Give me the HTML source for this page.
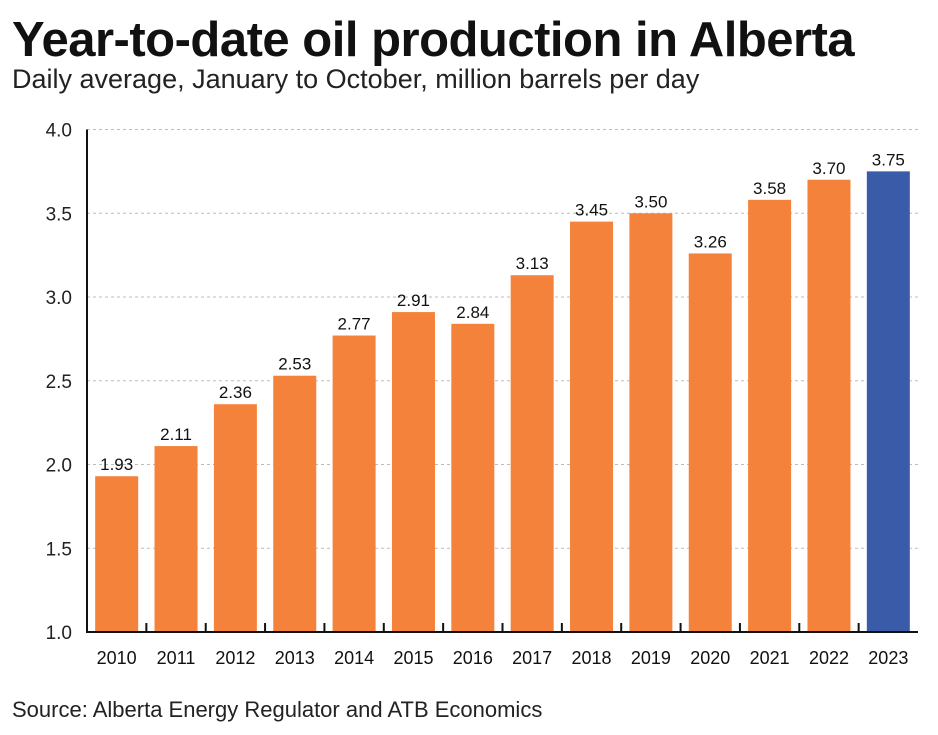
<!DOCTYPE html>
<html><head><meta charset="utf-8"><style>
body{margin:0;background:#fff;width:938px;height:735px;overflow:hidden;font-family:"Liberation Sans",sans-serif;}
#title{position:absolute;left:12px;top:12px;font-size:49px;font-weight:bold;color:#111;letter-spacing:-0.5px;margin:0}
#sub{position:absolute;left:12px;top:64px;font-size:27px;color:#222}
#src{position:absolute;left:12px;top:697px;font-size:22px;color:#222}
svg{position:absolute;left:0;top:0}
</style></head><body>
<div id="title">Year-to-date oil production in Alberta</div>
<div id="sub">Daily average, January to October, million barrels per day</div>
<div id="src">Source: Alberta Energy Regulator and ATB Economics</div>
<svg id="chart" width="938" height="735"></svg>
<script>
const categories=["2010","2011","2012","2013","2014","2015","2016","2017","2018","2019","2020","2021","2022","2023"];
const values=[1.93,2.11,2.36,2.53,2.77,2.91,2.84,3.13,3.45,3.50,3.26,3.58,3.70,3.75];
const valueLabels=["1.93","2.11","2.36","2.53","2.77","2.91","2.84","3.13","3.45","3.50","3.26","3.58","3.70","3.75"];
const yTicks=[1.0,1.5,2.0,2.5,3.0,3.5,4.0];
const yTickLabels=["1.0","1.5","2.0","2.5","3.0","3.5","4.0"];
const svg=document.getElementById('chart');
const NS='http://www.w3.org/2000/svg';
const L=87,R=918,T=129.5,B=632,ymin=1,ymax=4;
const band=(R-L)/categories.length,bw=43;
const y=v=>B-(v-ymin)/(ymax-ymin)*(B-T);
const x=i=>L+band*i+band/2;
function mk(tag,attrs){const e=document.createElementNS(NS,tag);for(const k in attrs)e.setAttribute(k,attrs[k]);svg.appendChild(e);return e;}
yTicks.forEach((t,i)=>{
  if(i>0){const g=mk('line',{x1:L,x2:R,y1:y(t),y2:y(t),stroke:'#bbb','stroke-dasharray':'3,3','stroke-width':1});
  
  }
  const tx=mk('text',{x:72,y:y(t)+7,'text-anchor':'end','font-size':19,fill:'#222','font-family':'Liberation Sans'});
  tx.textContent=yTickLabels[i];
  
  
});
values.forEach((v,i)=>{
  const r=mk('rect',{x:x(i)-bw/2,y:y(v),width:bw,height:B-y(v),fill:i===values.length-1?'#3A5BA8':'#F4823A'});
  
  
  const vl=mk('text',{x:x(i),y:y(v)-6,'text-anchor':'middle','font-size':17,fill:'#111','font-family':'Liberation Sans'});
  vl.textContent=valueLabels[i];
  
  
  const cl=mk('text',{x:x(i),y:B+32,'text-anchor':'middle','font-size':18,fill:'#111','font-family':'Liberation Sans'});
  cl.textContent=categories[i];
  
  
  if(i>0){const tk=mk('line',{x1:L+band*i,x2:L+band*i,y1:B,y2:B-9,stroke:'#111','stroke-width':2});
  
  }
});
const ya=mk('line',{x1:L,x2:L,y1:T,y2:B+1,stroke:'#111','stroke-width':2});


const xa=mk('line',{x1:L-1,x2:R,y1:B,y2:B,stroke:'#111','stroke-width':2});


</script>
</body></html>
